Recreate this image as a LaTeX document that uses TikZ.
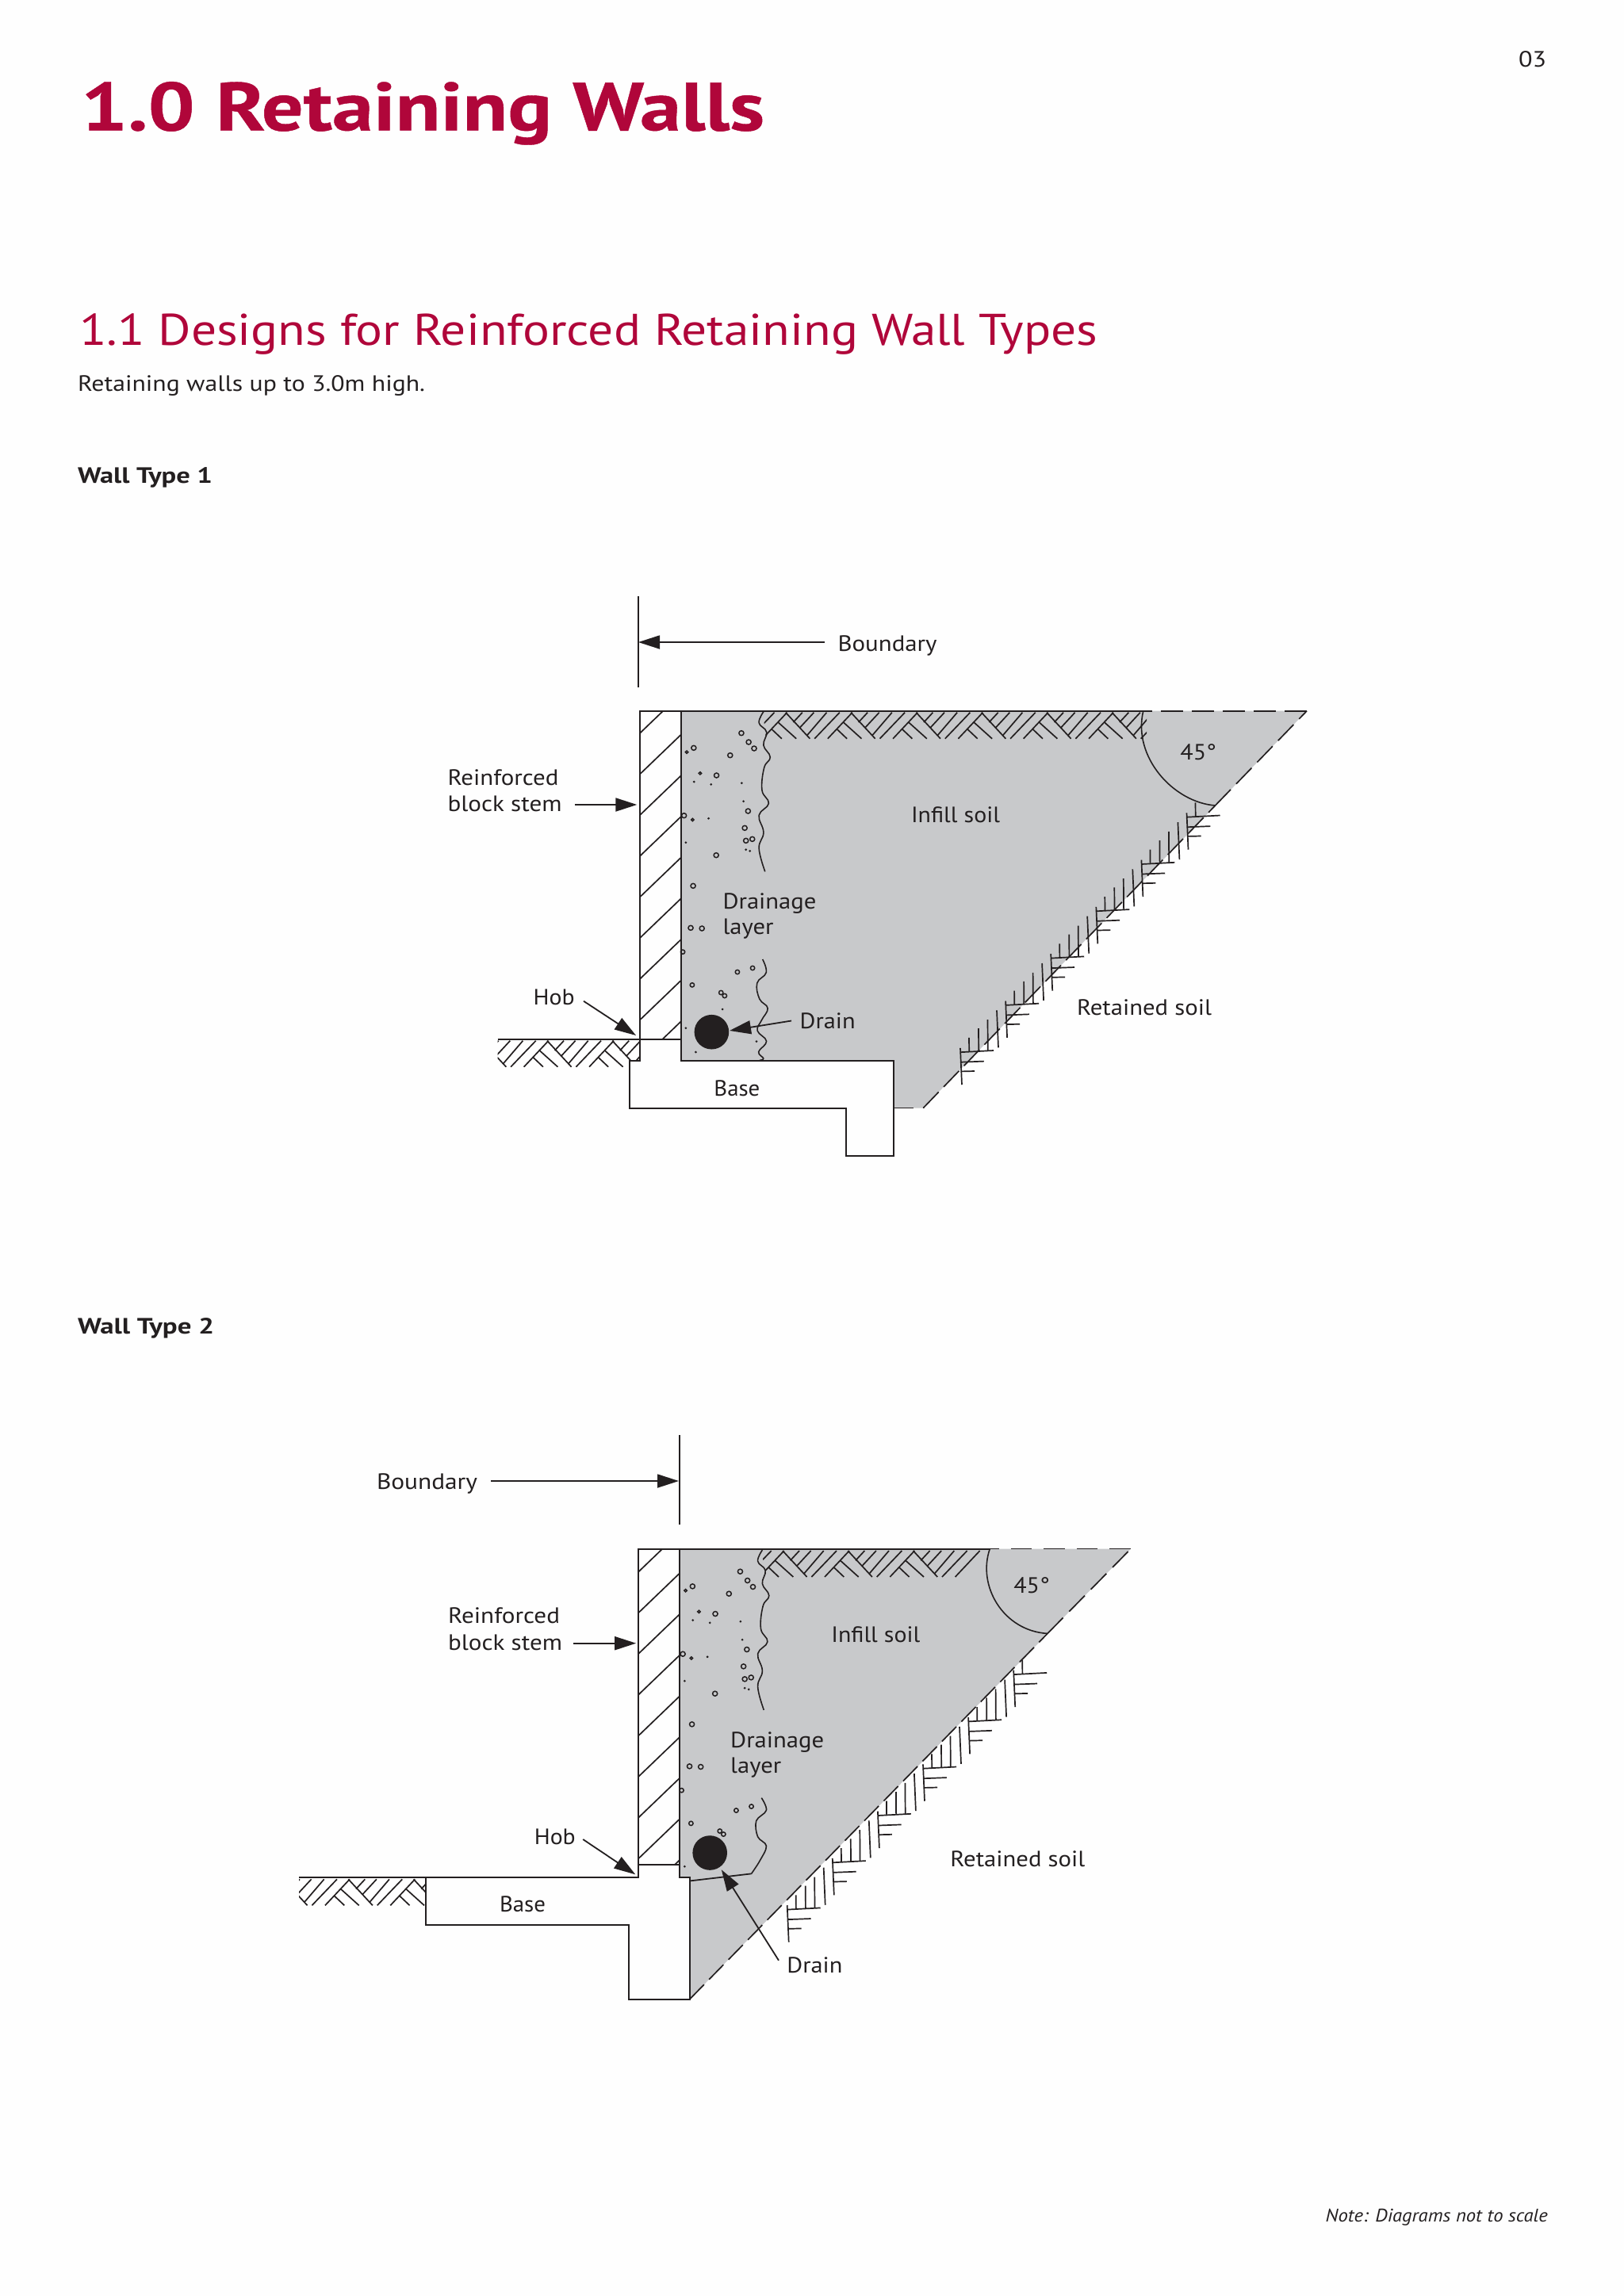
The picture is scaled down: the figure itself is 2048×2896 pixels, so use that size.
\documentclass[tikz,border=0pt]{standalone}
\usepackage{graphicx}
\usepackage{fontspec}
\setmainfont{PT Sans}
\usetikzlibrary{arrows.meta}
\definecolor{crimson}{HTML}{B0063A}
\definecolor{ink}{HTML}{231F20}
\definecolor{fillgrey}{HTML}{C8C9CB}
\definecolor{pagebg}{HTML}{FEFEFE}
\tikzset{
  lab/.style={anchor=base west,inner sep=0pt,outer sep=0pt,text=ink,font=\fontsize{14}{16}\selectfont},
  heading/.style={lab,text=crimson},
  outline/.style={draw=ink,line width=1pt,line join=miter},
  hatchline/.style={draw=ink,line width=0.85pt},
  wave/.style={draw=ink,line width=0.8pt},
  dashline/.style={draw=ink,line width=0.85pt},
  ptr/.style={draw=ink,line width=0.9pt,-{Triangle[length=13.5pt,width=8.5pt,fill=ink]}},
  stone/.style={draw=ink,line width=0.75pt},
  zoomA/.style={x=0.19135pt,y=-0.16667pt},
}
\newcommand\fitw[2]{\resizebox{#1pt}{\height}{#2}}
% herringbone: #1 list of apexes, #2 top y
\newcommand\herring[2]{%
  \foreach \a in {#1}{%
    \begin{scope}[shift={(\a,#2)}]
      \draw[hatchline] (0,2)--(30.6,35) (-9.6,14.3)--(13.4,35) (-18,22.7)--(-5,35);
      \draw[hatchline] (9.6,14.3)--(21,2) (18,21)--(35.6,2) (26.8,31)--(51.7,2) (36.4,35)--(68,2) (53,35)--(84,2);
    \end{scope}}}
% retained-soil tick group
\newcommand\rgmain{%
  \draw[hatchline] (0,0)--(2,46.4) (0,5.4)--(42,3.2) (1,17.9)--(29.8,16.8) (1.5,29.6)--(18,29.2);}
\newcommand\rgup{%
  \draw[hatchline] (11,-12.9)--(11.2,4.6) (23,-24.6)--(23.2,4.3) (34.5,-35.7)--(34.8,3.6) (46,-47.5)--(48,-0.5);}
\newcommand\retained[2]{%
  \foreach \n in {0,...,4}{%
    \begin{scope}[shift={({#1+57.1*\n},{#2-59.3*\n})}]\rgmain\rgup\end{scope}}
  \begin{scope}[shift={({#1+285.5},{#2-296.5})}]\rgmain
    \draw[hatchline] (11,-12.9)--(11.2,4.6);\end{scope}}
\newcommand\stemhatch{%
  \foreach \k in {0,...,8}{\draw[hatchline] (697,{615+155*\k})--(833,{465+155*\k});}}
\newcommand\upperdrain{%
  \draw[wave] plot[smooth,tension=0.7] coordinates{(1105,533)(1090,575)(1115,610)(1105,660)(1127,705)(1107,745)(1100,830)(1122,880)(1090,925)(1105,990)(1090,1050)(1110,1138)};
  \foreach \p/\q in {1032/614,1056/648,1074/672,995/698,875/670,950/774,843/926,1054/909,1043/973,1068/1015,1047/1021,949/1076,873/1192,865/1351,902/1353}{%
    \draw[stone] (\p,\q) ellipse [x radius=8,y radius=9];}
  \foreach \p/\q in {852/686,896/766,871/942}{\draw[stone] (\p,\q) ellipse [x radius=4.5,y radius=5];}
  \foreach \p/\q in {876/798,932/808,1033/803,1039/872,924/937,849/1028,1047/1055,1060/1060}{\fill[ink] (\p,\q) ellipse [x radius=4,y radius=4.5];}
  % items below the drainage label, read from the lower crop
  \begin{scope}[shift={(156.9,1290)}]
    \foreach \p/\q in {682/152,862/228,912/213,713/277,808/306,820/318}{\draw[stone] (\p,\q) ellipse [x radius=7,y radius=8];}
    \foreach \p/\q in {813/369,692/440}{\fill[ink] (\p,\q) ellipse [x radius=4,y radius=4.5];}
  \end{scope}}
\begin{document}
\begin{tikzpicture}[x=0.5pt,y=-0.5pt]
\useasboundingbox (0,0) rectangle (2048,2896);
\fill[pagebg] (0,0) rectangle (2048,2896);

% ---------- page texts
\node[heading,font=\fontsize{43}{48}\bfseries\selectfont\addfontfeatures{FakeBold=0.5}] (title) at (102,164.5) {\fitw{431}{1.0 Retaining Walls}};
\node[heading,font=\fontsize{28}{32}\selectfont] (sub) at (100,435) {\fitw{642}{1.1 Designs for Reinforced Retaining Wall Types}};
\node[lab] (intro) at (98,493) {\fitw{219}{Retaining walls up to 3.0m high.}};
\node[lab,font=\fontsize{14}{16}\bfseries\selectfont] (typeA) at (98,609.5) {\fitw{85}{Wall Type 1}};
\node[lab,font=\fontsize{14}{16}\bfseries\selectfont] (typeB) at (98,1682) {\fitw{86}{Wall Type 2}};
\node[lab] (pageno) at (1915,84) {\fitw{17.5}{03}};
\node[lab,font=\fontsize{11.5}{14}\itshape\selectfont] (note) at (1671.7,2802.7) {\fitw{140}{Note: Diagrams not to scale}};

% ========== WALL TYPE 1
\fill[fillgrey] (858.7,896.7)--(1648,896.7)--(1164.3,1397.5)--(1127.5,1397.5)--(1127.5,1337.7)--(858.7,1337.7)--cycle;
% retained soil ticks
\retained{1211}{1321.8}
% diagonal and top dashes
\draw[dashline,dash pattern=on 14pt off 4.5pt] (1164.3,1397.5)--(1532.5,1016);
\draw[dashline,dash pattern=on 14pt off 5pt] (1532.5,1016)--(1648,896.7);
\draw[dashline,dash pattern=on 14pt off 5.5pt] (1648,896.7)--(1441.7,896.7);
\draw[dashline,dash pattern=on 12pt off 6pt] (1127.5,1397.5)--(1164.3,1397.5);
% top herringbone
\begin{scope}
  \clip (962,897) -- (1446,897) -- (1446,933) -- (966,933) -- cycle;
  \herring{908.5,990.8,1073.1,1155.4,1237.7,1320,1402.3}{896.7}
\end{scope}
% ground herringbone
\begin{scope}
  \clip (627.6,1310.7)--(807,1310.7)--(807,1337.7)--(794.4,1337.7)--(794.4,1346)--(627.6,1346)--cycle;
  \herring{607.7,690,772.2}{1310.7}
\end{scope}
% stem hatching
\begin{scope}
  \clip (806.7,896.7) rectangle (858.7,1310.7);
  \begin{scope}[shift={(540,720)},zoomA]\stemhatch\end{scope}
\end{scope}
% drainage details
\begin{scope}[shift={(540,720)},zoomA]\upperdrain\end{scope}
\begin{scope}[shift={(600,1150)},zoomA]
  \draw[wave] plot[smooth,tension=0.7] coordinates{(945,180)(957,230)(927,270)(935,330)(962,365)(942,410)(928,450)(958,490)(932,530)(948,555)(935,562)};
  \foreach \p/\q in {925/491,725/531}{\fill[ink] (\p,\q) ellipse [x radius=4,y radius=4.5];}
\end{scope}
% arc
\draw[wave] (1441.7,897) .. controls (1428,955) and (1480,1012) .. (1532.5,1016);
% outlines
\draw[outline] (1441.7,896.7)--(806.7,896.7)--(806.7,1337.7)--(794.4,1337.7)--(794.4,1397.7)--(1067,1397.7)--(1067,1457.7)--(1127.4,1457.7)--(1127.4,1337.7)--(858.7,1337.7)--(858.7,896.7);
\draw[outline] (806.7,1310.7)--(858.7,1310.7);
\draw[outline] (627.6,1310.7)--(806.7,1310.7);
% drain
\fill[ink] (897.4,1301.7) circle (21.8);
\coordinate (drainA) at (920,1300);
\coordinate (drainAtail) at (998,1287.5);
\coordinate (bndAtop) at (804.8,752);
\coordinate (bndAbot) at (804.8,866.7);
\coordinate (bndAtip) at (805,810);
\coordinate (bndAtail) at (1040,810);
\coordinate (stemAtip) at (803.3,1015);
\coordinate (stemAtail) at (724.5,1015);
\coordinate (hobAtip) at (802,1306);
\coordinate (hobAtail) at (736,1262.7);
\draw[hatchline,line width=1pt] (bndAtop)--(bndAbot);
\draw[ptr] (bndAtail)--(bndAtip);
\draw[ptr] (stemAtail)--(stemAtip);
\draw[ptr] (hobAtail)--(hobAtip);
\draw[ptr] (drainAtail)--(drainA);
% labels
\node[lab] (bndA) at (1056.6,821) {\fitw{62.5}{Boundary}};
\node[lab] (reinA) at (564.5,990) {\fitw{70}{Reinforced}};
\node[lab] (blockA) at (564.5,1023) {\fitw{72}{block stem}};
\node[lab] (drainageA) at (911.5,1146) {\fitw{59}{Drainage}};
\node[lab] (layerA) at (911.5,1178) {\fitw{32}{layer}};
\node[lab] (hobA) at (672.7,1267.2) {\fitw{26}{Hob}};
\node[lab] (drainLabA) at (1008.7,1297.2) {\fitw{35}{Drain}};
\node[lab] (baseA) at (900.4,1382.2) {\fitw{29}{Base}};
\node[lab] (infillA) at (1149,1037.5) {\fitw{56}{Infill soil}};
\node[lab] (angA) at (1488.4,958) {\fitw{22.8}{45°}};
\node[lab] (retA) at (1358,1280.4) {\fitw{85}{Retained soil}};

% ========== WALL TYPE 2
\fill[fillgrey] (856.9,1954)--(1426,1953.5)--(869.7,2521.7)--(869.7,2368.3)--(856.9,2368.3)--cycle;
\retained{992.7}{2403.2}
\draw[dashline,dash pattern=on 13pt off 4.5pt] (869.7,2521.7)--(1321,2060.4);
\draw[dashline,dash pattern=on 14pt off 5.5pt] (1321,2060.4)--(1426,1953.5);
\draw[dashline,dash pattern=on 13.3pt off 7.5pt] (1426,1953.5)--(1248.3,1953.5);
\begin{scope}
  \clip (960,1954) -- (1243,1954) -- (1243,1990) -- (966,1990) -- cycle;
  \herring{904.7,987,1069.3,1151.6}{1954}
\end{scope}
\begin{scope}
  \clip (377,2368.3) rectangle (537,2403.5);
  \herring{357,439.3,521.6}{2368.3}
\end{scope}
\begin{scope}
  \clip (805.2,1954) rectangle (856.9,2352.3);
  \begin{scope}[shift={(538.5,1777.5)},zoomA]\stemhatch\end{scope}
\end{scope}
\begin{scope}[shift={(538.5,1777.5)},zoomA]\upperdrain\end{scope}
\begin{scope}[shift={(360,2250)},x=0.23596pt,y=-0.16667pt]
  \draw[wave] plot[smooth,tension=0.6] coordinates{(1272,53)(1285,100)(1258,140)(1262,200)(1285,235)(1268,290)(1245,340)};
  \draw[draw=ink,line width=0.9pt] (1245,340)--(1082,367);
\end{scope}
\draw[wave] (1248.3,1953.5) .. controls (1232,2000) and (1265,2057) .. (1321,2060.4);
\draw[outline] (1248.3,1953.5)--(805.2,1953.5)--(805.2,2368.3)--(537,2368.3)--(537,2428.3)--(793.2,2428.3)--(793.2,2521.7)--(869.7,2521.7)--(869.7,2368.3)--(856.9,2368.3)--(856.9,1953.5);
\draw[outline] (805.2,2352.3)--(856.9,2352.3);
\draw[outline] (377,2368.3)--(537,2368.3);
\fill[ink] (895.2,2337) circle (21.8);
\coordinate (drainB) at (909.8,2358.3);
\coordinate (drainBtail) at (982,2472.7);
\coordinate (bndBtop) at (857,1810);
\coordinate (bndBbot) at (857,1923);
\coordinate (bndBtip) at (856,1868);
\coordinate (bndBtail) at (619,1868);
\coordinate (stemBtip) at (802.2,2072.7);
\coordinate (stemBtail) at (723,2072.7);
\coordinate (hobBtip) at (801.3,2364.3);
\coordinate (hobBtail) at (735.2,2320);
\draw[hatchline,line width=1pt] (bndBtop)--(bndBbot);
\draw[ptr] (bndBtail)--(bndBtip);
\draw[ptr] (stemBtail)--(stemBtip);
\draw[ptr] (hobBtail)--(hobBtip);
\draw[ptr] (drainBtail)--(drainB);
\node[lab] (bndB) at (475,1878) {\fitw{63.5}{Boundary}};
\node[lab] (reinB) at (565,2047.5) {\fitw{70.5}{Reinforced}};
\node[lab] (blockB) at (565,2081) {\fitw{72}{block stem}};
\node[lab] (drainageB) at (921.2,2204) {\fitw{59}{Drainage}};
\node[lab] (layerB) at (921.2,2236.7) {\fitw{32}{layer}};
\node[lab] (hobB) at (673.8,2326.5) {\fitw{26}{Hob}};
\node[lab] (drainLabB) at (992.4,2488.8) {\fitw{35}{Drain}};
\node[lab] (baseB) at (630,2411.8) {\fitw{29}{Base}};
\node[lab] (infillB) at (1048.3,2071) {\fitw{56}{Infill soil}};
\node[lab] (angB) at (1278.3,2009.3) {\fitw{22.8}{45°}};
\node[lab] (retB) at (1198.3,2354.8) {\fitw{85}{Retained soil}};
\end{tikzpicture}
\end{document}
